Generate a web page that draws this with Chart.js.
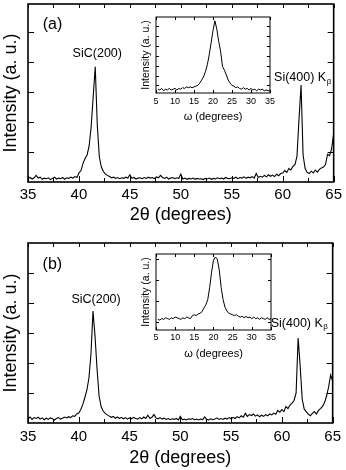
<!DOCTYPE html>
<html>
<head>
<meta charset="utf-8">
<script src="https://cdn.jsdelivr.net/npm/chart.js@4.4.1/dist/chart.umd.min.js"></script>
<style>
  html, body { margin: 0; padding: 0; background: #fff; }
  #wrap { position: relative; width: 346px; height: 470px; overflow: hidden; background: #fff; }
  canvas { position: absolute; }
</style>
</head>
<body>
<div id="wrap">
  <canvas id="mainA" width="346" height="235" style="left:0;top:0"></canvas>
  <canvas id="mainB" width="346" height="235" style="left:0;top:235px"></canvas>
  <canvas id="insetA" width="140" height="120" style="left:138px;top:10px"></canvas>
  <canvas id="insetB" width="140" height="120" style="left:138px;top:247px"></canvas>
</div>
<script>
// 2theta scan: 35..65 deg, 0.2 deg step
const scanStart = 35;
const scanStep = 0.2;

// panel (a) intensity, arbitrary units (1 unit = one y tick)
const intensityA = [
    0.12, 0.15, 0.10, 0.14, 0.22,  0.13, 0.16, 0.09, 0.13, 0.11,
    0.14, 0.08, 0.12, 0.16, 0.10,  0.13, 0.11, 0.15, 0.09, 0.14,
    0.12, 0.16, 0.13, 0.18, 0.15,  0.30, 0.38, 0.62, 0.78, 0.90,
    1.20, 1.85, 2.85, 3.84, 1.90,  0.84, 0.50, 0.35, 0.26, 0.22,
    0.18, 0.14, 0.16, 0.12, 0.15,  0.11, 0.14, 0.12, 0.16, 0.13,
    0.24, 0.12, 0.15, 0.10, 0.13,  0.14, 0.11, 0.15, 0.12, 0.16,
    0.13, 0.15, 0.11, 0.17, 0.14,  0.22, 0.15, 0.12, 0.16, 0.10,
    0.13, 0.15, 0.11, 0.14, 0.12,  0.26, 0.10, 0.13, 0.09, 0.12,
    0.10, 0.13, 0.09, 0.12, 0.10,  0.11, 0.08, 0.12, 0.10, 0.13,
    0.09, 0.12, 0.10, 0.14, 0.11,  0.13, 0.10, 0.15, 0.12, 0.11,
    0.14, 0.12, 0.16, 0.11, 0.15,  0.13, 0.17, 0.12, 0.16, 0.14,
    0.18, 0.13, 0.28, 0.15, 0.19,  0.16, 0.22, 0.17, 0.24, 0.19,
    0.23, 0.18, 0.26, 0.21, 0.28,  0.30, 0.38, 0.32, 0.45, 0.40,
    0.52, 0.58, 0.85, 2.10, 3.23,  0.90, 0.45, 0.32, 0.28, 0.36,
    0.30, 0.40, 0.33, 0.42, 0.47,  0.50, 0.58, 0.92, 0.88, 1.10,
    1.62
];

// panel (b) intensity
const intensityB = [
    0.14, 0.20, 0.12, 0.18, 0.15,  0.19, 0.13, 0.17, 0.11, 0.16,
    0.12, 0.17, 0.14, 0.10, 0.15,  0.18, 0.13, 0.16, 0.20, 0.17,
    0.21, 0.18, 0.24, 0.22, 0.30,  0.33, 0.45, 0.62, 0.85, 1.10,
    1.50, 2.30, 3.73, 2.90, 1.80,  0.90, 0.55, 0.40, 0.32, 0.27,
    0.23, 0.19, 0.22, 0.16, 0.20,  0.15, 0.19, 0.14, 0.18, 0.13,
    0.17, 0.14, 0.19, 0.15, 0.13,  0.18, 0.14, 0.20, 0.15, 0.26,
    0.16, 0.19, 0.28, 0.17, 0.14,  0.18, 0.13, 0.16, 0.12, 0.15,
    0.11, 0.14, 0.12, 0.15, 0.10,  0.22, 0.11, 0.13, 0.10, 0.14,
    0.12, 0.15, 0.11, 0.13, 0.10,  0.13, 0.11, 0.20, 0.12, 0.10,
    0.14, 0.11, 0.13, 0.17, 0.12,  0.15, 0.12, 0.16, 0.13, 0.18,
    0.14, 0.19, 0.15, 0.21, 0.17,  0.24, 0.19, 0.32, 0.22, 0.28,
    0.25, 0.30, 0.23, 0.27, 0.21,  0.26, 0.22, 0.28, 0.24, 0.30,
    0.27, 0.33, 0.29, 0.42, 0.36,  0.45, 0.38, 0.55, 0.48, 0.60,
    0.66, 0.75, 1.00, 2.83, 1.90,  0.80, 0.46, 0.38, 0.30, 0.24,
    0.32, 0.38, 0.30, 0.42, 0.48,  0.55, 0.68, 0.90, 1.20, 1.60,
    1.40
];

// rocking curves (insets): omega 5.5..35 deg, 0.5 deg step, height as fraction of frame
const omegaStart = 5.5;
const omegaStep = 0.5;
const rockingA = [
    0.05, 0.04, 0.06, 0.03, 0.05, 0.04, 0.06, 0.04, 0.05,
    0.06, 0.04, 0.06, 0.05, 0.07, 0.06, 0.08, 0.07, 0.08, 0.07,
    0.08, 0.09, 0.10, 0.13, 0.17, 0.21, 0.28, 0.37, 0.50, 0.66,
    0.82, 0.95, 0.84, 0.68, 0.55, 0.35, 0.30, 0.24, 0.17, 0.13,
    0.10, 0.09, 0.07, 0.08, 0.06, 0.05, 0.07, 0.05, 0.06, 0.04,
    0.06, 0.04, 0.05, 0.03, 0.05, 0.04, 0.05, 0.03, 0.04, 0.03, 0.03
];
const rockingB = [
    0.14, 0.13, 0.15, 0.14, 0.16, 0.15, 0.14, 0.16, 0.15,
    0.17, 0.16, 0.15, 0.14, 0.16, 0.15, 0.17, 0.16, 0.15, 0.19,
    0.20, 0.19, 0.21, 0.22, 0.24, 0.29, 0.33, 0.40, 0.56, 0.76,
    0.92, 0.96, 0.93, 0.79, 0.56, 0.40, 0.30, 0.25, 0.22, 0.21,
    0.20, 0.19, 0.20, 0.18, 0.17, 0.18, 0.16, 0.18, 0.16, 0.17,
    0.15, 0.17, 0.15, 0.16, 0.14, 0.16, 0.15, 0.14, 0.16, 0.14, 0.15
];

// tick positions
const mainXMajor = [35, 40, 45, 50, 55, 60, 65];
const mainXMinor = [37.5, 42.5, 47.5, 52.5, 57.5, 62.5];
const mainYTicks = [1, 2, 3, 4, 5];
const insetXTicks = [5, 10, 15, 20, 25, 30, 35];
const insetYTicksA = [0.1, 0.23, 0.36, 0.49, 0.62, 0.75, 0.88];
const insetYTicksB = [0.1, 0.38, 0.66, 0.93];

const FONT = "'Liberation Sans', Arial, Helvetica, sans-serif";

function toPoints(start, step, values) {
    return values.map((v, i) => ({ x: +(start + i * step).toFixed(2), y: v }));
}

// frame + inward ticks on all four sides, plus text notes
const framePlugin = {
    id: "frameTicks",
    afterDraw(chart, args, opts) {
        const ctx = chart.ctx;
        const { left, right, top, bottom } = chart.chartArea;
        const xs = chart.scales.x, ys = chart.scales.y;
        ctx.save();
        ctx.strokeStyle = "#000";
        ctx.lineWidth = opts.frameWidth;
        ctx.strokeRect(left, top, right - left, bottom - top);
        ctx.lineWidth = 1;
        ctx.beginPath();
        opts.xMajor.forEach(v => {
            const px = Math.round(xs.getPixelForValue(v)) + 0.5;
            ctx.moveTo(px, bottom); ctx.lineTo(px, bottom - opts.major);
            ctx.moveTo(px, top); ctx.lineTo(px, top + opts.minor);
        });
        (opts.xMinor || []).forEach(v => {
            const px = Math.round(xs.getPixelForValue(v)) + 0.5;
            ctx.moveTo(px, bottom); ctx.lineTo(px, bottom - opts.minor);
            ctx.moveTo(px, top); ctx.lineTo(px, top + opts.minor);
        });
        opts.yTicks.forEach(v => {
            const py = Math.round(ys.getPixelForValue(v)) + 0.5;
            ctx.moveTo(left, py); ctx.lineTo(left + opts.major, py);
            ctx.moveTo(right, py); ctx.lineTo(right - opts.major, py);
        });
        ctx.stroke();

        ctx.fillStyle = "#000";
        ctx.textBaseline = "middle";
        (opts.notes || []).forEach(n => {
            const px = xs.getPixelForValue(n.x);
            const py = ys.getPixelForValue(n.y);
            ctx.font = n.size + "px " + FONT;
            ctx.textAlign = n.align || "center";
            ctx.fillText(n.text, px, py);
            if (n.sub) {
                const w = ctx.measureText(n.text).width;
                ctx.font = Math.round(n.size * 0.62) + "px " + FONT;
                ctx.textAlign = "left";
                ctx.fillText(n.sub, px + w + 0.5, py + n.size * 0.32);
            }
        });
        ctx.restore();
    }
};

function buildChart(id, opt) {
    const ctx = document.getElementById(id).getContext("2d");
    return new Chart(ctx, {
        type: "line",
        data: {
            datasets: [{
                data: opt.points,
                borderColor: "#000",
                borderWidth: opt.lineWidth,
                pointRadius: 0,
                tension: 0,
                fill: false
            }]
        },
        options: {
            responsive: false,
            animation: false,
            devicePixelRatio: 1,
            layout: { padding: opt.padding },
            plugins: {
                legend: { display: false },
                tooltip: { enabled: false },
                frameTicks: opt.frame
            },
            scales: {
                x: {
                    type: "linear",
                    min: opt.xMin, max: opt.xMax,
                    grid: { display: false, drawTicks: false },
                    border: { display: false },
                    ticks: {
                        stepSize: opt.xStep,
                        color: "#000",
                        padding: opt.tickPad,
                        maxRotation: 0,
                        autoSkip: false,
                        font: { family: FONT, size: opt.tickSize }
                    },
                    title: {
                        display: true,
                        text: opt.xTitle,
                        color: "#000",
                        font: { family: FONT, size: opt.xTitleSize, lineHeight: 1.2 },
                        padding: { top: 0, bottom: opt.xTitlePad }
                    },
                    afterFit: s => { s.height = opt.xHeight; }
                },
                y: {
                    min: opt.yMin, max: opt.yMax,
                    grid: { display: false, drawTicks: false },
                    border: { display: false },
                    ticks: { display: false },
                    title: {
                        display: true,
                        text: "Intensity (a. u.)",
                        color: "#000",
                        font: { family: FONT, size: opt.yTitleSize, lineHeight: 1.2 },
                        padding: { top: opt.yTitlePad, bottom: 0 }
                    },
                    afterFit: s => { s.width = opt.yWidth; }
                }
            }
        },
        plugins: [framePlugin]
    });
}

// main panels
buildChart("mainA", {
    points: toPoints(scanStart, scanStep, intensityA),
    lineWidth: 1.1,
    padding: { top: 4, right: 10, left: 0, bottom: 0 },
    xMin: 35, xMax: 65, xStep: 5, yMin: 0, yMax: 5.93,
    tickPad: 4, tickSize: 15,
    xTitle: "2\u03B8 (degrees)", xTitleSize: 18, xTitlePad: 9, xHeight: 53,
    yTitleSize: 18, yTitlePad: 0, yWidth: 28,
    frame: {
        frameWidth: 1.6, major: 6, minor: 4,
        xMajor: mainXMajor, xMinor: mainXMinor, yTicks: mainYTicks,
        notes: [
            { text: "(a)", x: 37.4, y: 5.23, size: 16 },
            { text: "SiC(200)", x: 41.8, y: 4.27, size: 12.5 },
            { text: "Si(400) K", x: 59.15, y: 3.47, size: 12.5, align: "left", sub: "\u03B2" }
        ]
    }
});

buildChart("mainB", {
    points: toPoints(scanStart, scanStep, intensityB),
    lineWidth: 1.1,
    padding: { top: 8, right: 10, left: 0, bottom: 0 },
    xMin: 35, xMax: 65, xStep: 5, yMin: 0, yMax: 6,
    tickPad: 5, tickSize: 15,
    xTitle: "2\u03B8 (degrees)", xTitleSize: 18, xTitlePad: 1, xHeight: 47,
    yTitleSize: 18, yTitlePad: 0, yWidth: 28,
    frame: {
        frameWidth: 1.6, major: 6, minor: 4,
        xMajor: mainXMajor, xMinor: mainXMinor, yTicks: mainYTicks,
        notes: [
            { text: "(b)", x: 37.4, y: 5.27, size: 16 },
            { text: "SiC(200)", x: 41.7, y: 4.1, size: 12.5 },
            { text: "Si(400) K", x: 58.9, y: 3.33, size: 12.5, align: "left", sub: "\u03B2" }
        ]
    }
});

// insets
buildChart("insetA", {
    points: toPoints(omegaStart, omegaStep, rockingA),
    lineWidth: 1,
    padding: { top: 7, right: 6, left: 0, bottom: 0 },
    xMin: 5, xMax: 35, xStep: 5, yMin: 0, yMax: 1,
    tickPad: 3, tickSize: 9,
    xTitle: "\u03C9 (degrees)", xTitleSize: 11, xTitlePad: 6, xHeight: 37,
    yTitleSize: 10.5, yTitlePad: 1.5, yWidth: 18,
    frame: {
        frameWidth: 1, major: 3, minor: 3,
        xMajor: insetXTicks, yTicks: insetYTicksA
    }
});

buildChart("insetB", {
    points: toPoints(omegaStart, omegaStep, rockingB),
    lineWidth: 1,
    padding: { top: 7, right: 6, left: 0, bottom: 0 },
    xMin: 5, xMax: 35, xStep: 5, yMin: 0, yMax: 1,
    tickPad: 2, tickSize: 9,
    xTitle: "\u03C9 (degrees)", xTitleSize: 11, xTitlePad: 6, xHeight: 37,
    yTitleSize: 10.5, yTitlePad: 1.5, yWidth: 18,
    frame: {
        frameWidth: 1, major: 3, minor: 3,
        xMajor: insetXTicks, yTicks: insetYTicksB
    }
});
</script>
</body>
</html>
